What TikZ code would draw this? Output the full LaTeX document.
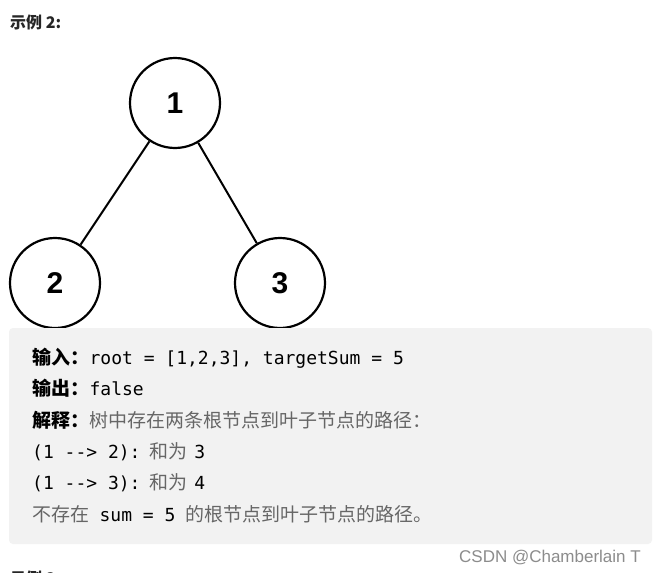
\documentclass[tikz,border=0pt]{standalone}
\usepackage{fontspec}
\setmainfont{Liberation Sans}
\newfontfamily\cjk{Noto Sans CJK SC}
\newfontfamily\mono{DejaVu Sans Mono}
\begin{document}
\begin{tikzpicture}[x=1pt,y=-1pt,
  tnode/.style={circle,draw=black,line width=2.2pt,minimum size=90pt,inner sep=0pt,font=\fontsize{30}{30}\selectfont\bfseries},
  edge/.style={line width=2pt},
  lbl/.style={anchor=base west,inner sep=0pt,font=\cjk\fontsize{19}{19}\selectfont\bfseries},
  txt/.style={anchor=base west,inner sep=0pt,text=black!60,font=\cjk\fontsize{19}{19}\selectfont},
  mtxt/.style={anchor=base west,inner sep=0pt,font=\mono\fontsize{18}{18}\selectfont}]
\useasboundingbox (0,0) rectangle (657,573);
\clip (0,0) rectangle (657,573);
\fill[white] (0,0) rectangle (657,573);
\node[anchor=base west,inner sep=0pt,font=\cjk\fontsize{16}{16}\selectfont\bfseries,text=black!85] (h) at (10,28) {示例 2:};
\node[tnode] (n1) at (175,103) {1};
\node[tnode] (n2) at (55,283) {2};
\node[tnode] (n3) at (280,283) {3};
\draw[edge] (n1) -- (n2);
\draw[edge] (n1) -- (n3);
\fill[black!5, rounded corners=4pt] (9,328) rectangle (652,544);
\node[lbl] (l1) at (32,364) {输入：};
\node[mtxt] (t1) at (l1.base east) {root = [1,2,3], targetSum = 5};
\node[lbl] (l2) at (32,395) {输出：};
\node[mtxt] (t2) at (l2.base east) {false};
\node[lbl] (l3) at (32,427) {解释：};
\node[txt] (t3) at (l3.base east) {树中存在两条根节点到叶子节点的路径：};
\node[mtxt] (t4) at (32,458) {(1 --> 2):};
\node[txt] (t4b) at ([xshift=9pt]t4.base east) {和为};
\node[mtxt] (t4c) at ([xshift=6pt]t4b.base east) {3};
\node[mtxt] (t5) at (32,489) {(1 --> 3):};
\node[txt] (t5b) at ([xshift=9pt]t5.base east) {和为};
\node[mtxt] (t5c) at ([xshift=6pt]t5b.base east) {4};
\node[txt] (t6) at (32,521) {不存在};
\node[mtxt] (t6b) at ([xshift=10pt]t6.base east) {sum = 5};
\node[txt] (t6c) at ([xshift=10pt]t6b.base east) {的根节点到叶子节点的路径。};
\node[anchor=base east,inner sep=0pt,font=\fontsize{17}{17}\selectfont,text=black!45] (wm) at (641,562) {CSDN @Chamberlain T};
\node[anchor=base west,inner sep=0pt,font=\cjk\fontsize{16}{16}\selectfont\bfseries,text=black!85] (h3) at (10,584) {示例 3:};
\end{tikzpicture}
\end{document}
